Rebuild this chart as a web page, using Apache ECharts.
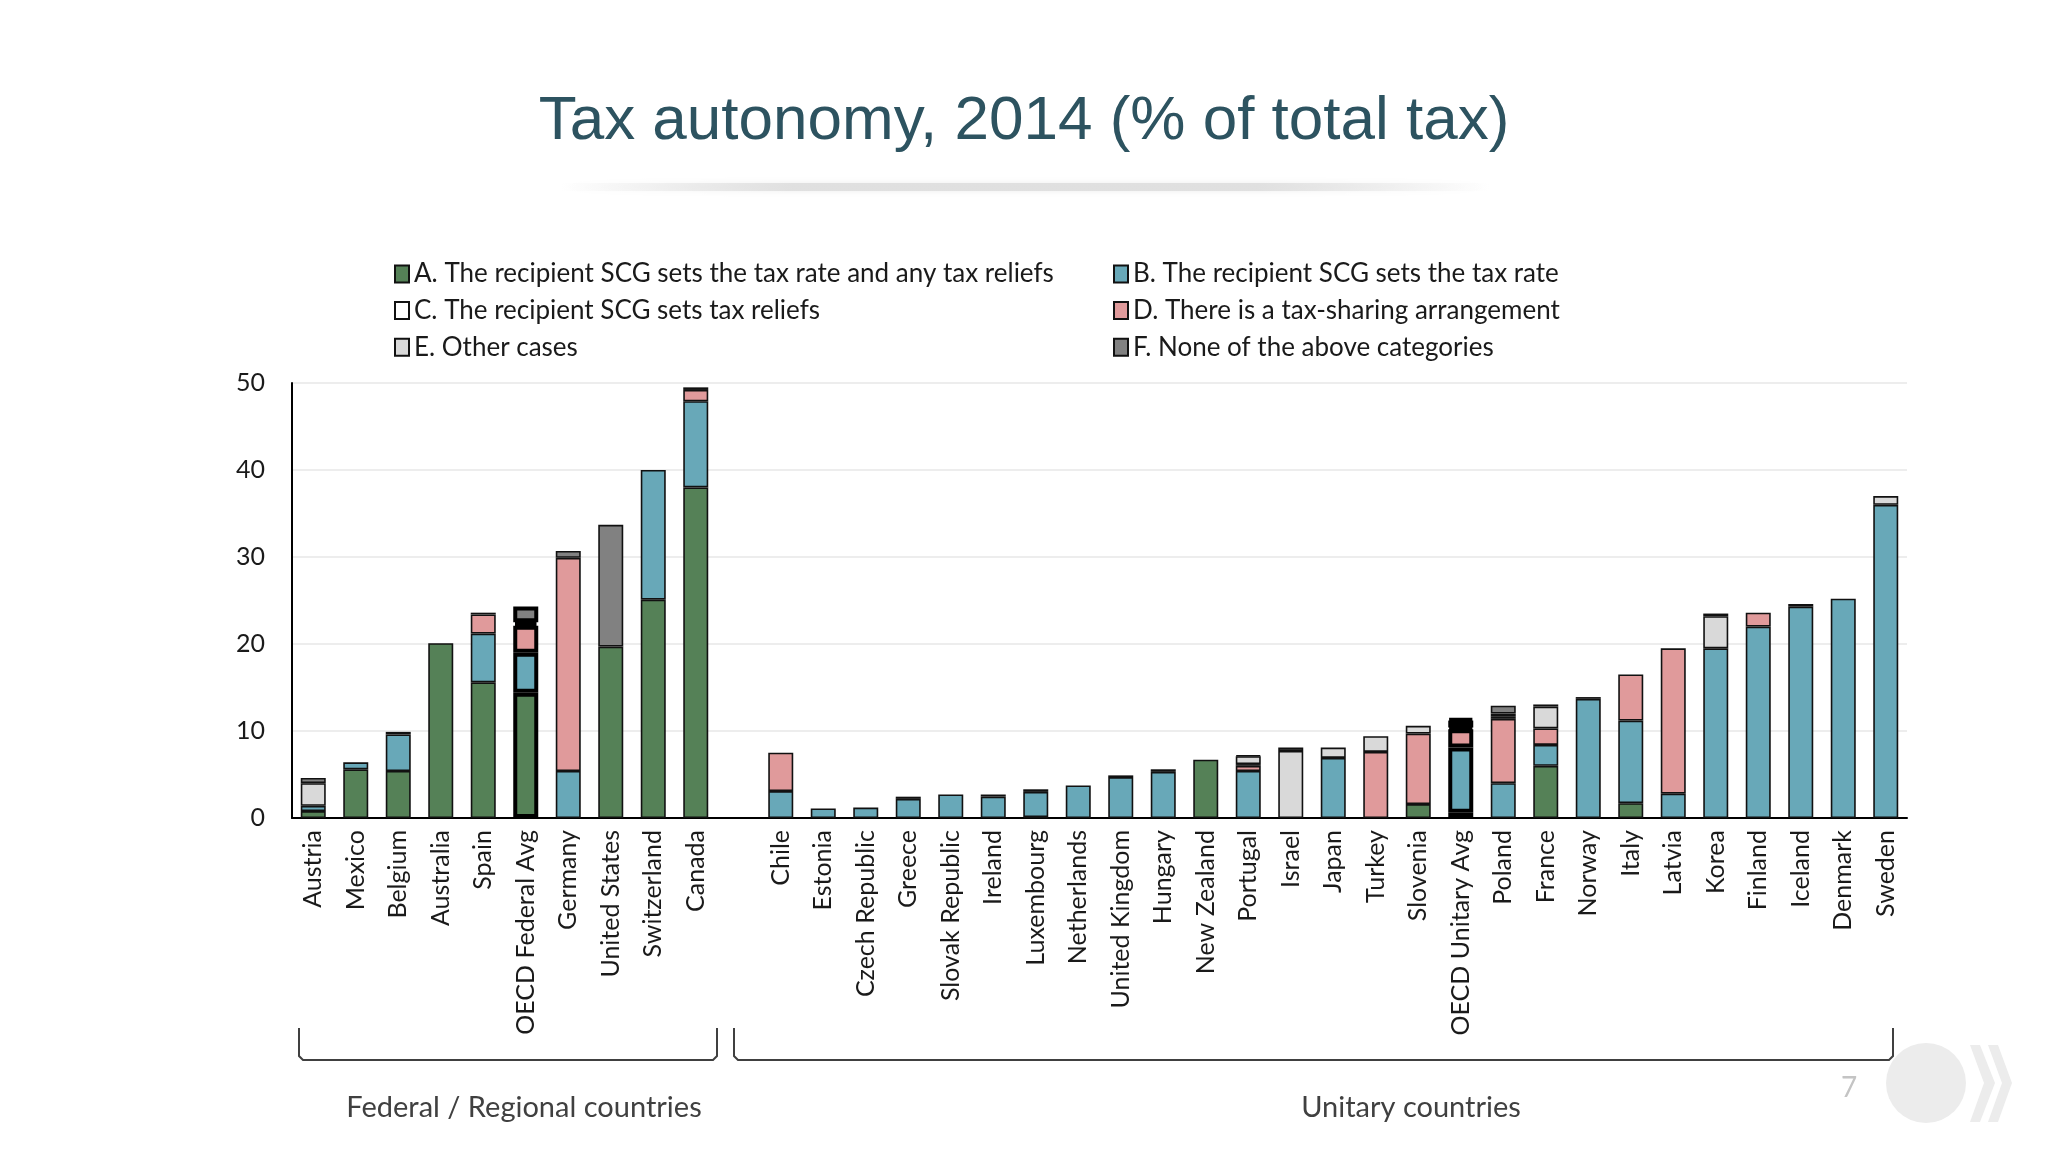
<!DOCTYPE html>
<html>
<head>
<meta charset="utf-8">
<script src="https://cdn.jsdelivr.net/npm/echarts@6/dist/echarts.min.js"></script>
<style>
  html, body { margin: 0; padding: 0; background: #ffffff; }
  #chart { width: 2048px; height: 1152px; }
</style>
</head>
<body>
<div id="chart"></div>
<script>
// ---------- DATA ----------
const federalCountries = ['Austria','Mexico','Belgium','Australia','Spain','OECD Federal Avg','Germany','United States','Switzerland','Canada'];
const unitaryCountries = ['Chile','Estonia','Czech Republic','Greece','Slovak Republic','Ireland','Luxembourg','Netherlands','United Kingdom','Hungary','New Zealand','Portugal','Israel','Japan','Turkey','Slovenia','OECD Unitary Avg','Poland','France','Norway','Italy','Latvia','Korea','Finland','Iceland','Denmark','Sweden'];

const seriesNames = [
  'A. The recipient SCG sets the tax rate and any tax reliefs',
  'B. The recipient SCG sets the tax rate',
  'C. The recipient SCG sets tax reliefs',
  'D. There is a tax-sharing arrangement',
  'E. Other cases',
  'F. None of the above categories'
];

// Federal / regional countries
const fedA = [0.8, 5.6, 5.4, 20.1, 15.6, 14.4, 0,    19.7, 25.1, 38.0];
const fedB = [0.6, 0.8, 4.2, 0,    5.6,  4.6,  5.4,  0,    14.9, 9.9];
const fedC = [0,   0,   0,   0,    0,    0,    0,    0,    0,    0];
const fedD = [0,   0,   0,   0,    2.2,  3.1,  24.5, 0,    0,    1.3];
const fedE = [2.6, 0,   0,   0,    0,    0.4,  0,    0,    0,    0];
const fedF = [0.6, 0,   0.3, 0,    0.2,  1.8,  0.8,  14.0, 0,    0.3];

// Unitary countries
const uniA = [0, 0, 0, 0, 0, 0, 0.1, 0, 0, 0, 6.7, 0, 0, 0, 0, 1.6, 0.6, 0, 6.0, 0, 1.7, 0, 0, 0, 0, 0, 0];
const uniB = [3.1, 1.1, 1.2, 2.2, 2.7, 2.45, 2.9, 3.75, 4.7, 5.3, 0, 5.4, 0, 6.9, 0, 0, 7.5, 4.0, 2.4, 13.7, 9.5, 2.8, 19.5, 22.0, 24.3, 25.2, 36.0];
const uniC = [0, 0, 0, 0, 0, 0, 0, 0, 0, 0, 0, 0.2, 0, 0, 0, 0, 0.2, 0.3, 0, 0, 0, 0, 0, 0, 0, 0, 0];
const uniD = [4.4, 0, 0, 0, 0, 0, 0, 0, 0, 0, 0, 0.6, 0, 0, 7.6, 8.1, 2.1, 7.4, 1.9, 0, 5.3, 16.7, 0, 1.6, 0, 0, 0];
const uniE = [0, 0, 0, 0, 0, 0, 0, 0, 0, 0, 0, 0.9, 7.7, 1.2, 1.8, 0.9, 0.8, 0.3, 2.5, 0, 0, 0, 3.7, 0, 0, 0, 1.0];
const uniF = [0, 0, 0, 0.25, 0, 0.25, 0.3, 0, 0.2, 0.3, 0, 0.1, 0.4, 0, 0, 0, 0.2, 0.9, 0.25, 0.2, 0, 0, 0.3, 0, 0.3, 0, 0];

const yTicks = [0, 10, 20, 30, 40, 50];
const groupLabels = ['Federal / Regional countries', 'Unitary countries'];

// ---------- BUILD ----------
const categories = federalCountries.concat([''], unitaryCountries);
const avgNames = ['OECD Federal Avg', 'OECD Unitary Avg'];
const colors = ['#558157', '#68a8b8', '#ffffff', '#e09a9b', '#d9d9d9', '#818181'];
const raw = [
  fedA.concat([null], uniA),
  fedB.concat([null], uniB),
  fedC.concat([null], uniC),
  fedD.concat([null], uniD),
  fedE.concat([null], uniE),
  fedF.concat([null], uniF)
];
// stacking order bottom -> top: A, B, D, C, E, F
const stackOrder = [0, 1, 3, 2, 4, 5];

const series = stackOrder.map(function (k) {
  return {
    name: seriesNames[k],
    type: 'bar',
    stack: 'total',
    barWidth: 25,
    itemStyle: { color: colors[k], borderColor: '#111', borderWidth: 1.6 },
    emphasis: { disabled: true },
    data: raw[k].map(function (v, i) {
      const val = (v === null || v === 0) ? null : v;
      if (avgNames.indexOf(categories[i]) >= 0) {
        return { value: val, itemStyle: { borderWidth: 4, borderColor: '#000' } };
      }
      return val;
    })
  };
});

const FONT = 'Lato, "Open Sans", sans-serif';
const legendCommon = {
  orient: 'vertical', top: 260, padding: 0,
  icon: 'rect', itemWidth: 14, itemHeight: 17, itemGap: 8.6,
  textStyle: { fontFamily: FONT, fontSize: 26, lineHeight: 28, color: '#1a1a1a' }
};
const chart = echarts.init(document.getElementById('chart'));
chart.setOption({
  animation: false,
  backgroundColor: '#ffffff',
  title: {
    text: 'Tax autonomy, 2014 (% of total tax)',
    left: 'center',
    top: 86,
    textStyle: { fontFamily: '"Liberation Sans", Arial, sans-serif', fontSize: 62, fontWeight: 'normal', color: '#2d5360' }
  },
  legend: [
    Object.assign({ data: [seriesNames[0], seriesNames[2], seriesNames[4]], left: 394 }, legendCommon),
    Object.assign({ data: [seriesNames[1], seriesNames[3], seriesNames[5]], left: 1113 }, legendCommon)
  ],
  grid: { left: 292, top: 383, width: 1615, height: 435, containLabel: false },
  xAxis: {
    type: 'category',
    data: categories,
    axisLine: { lineStyle: { color: '#000', width: 2 } },
    axisTick: { show: false },
    axisLabel: { interval: 0, rotate: 90, margin: 12, fontFamily: FONT, fontSize: 25, color: '#1a1a1a' }
  },
  yAxis: {
    type: 'value',
    min: yTicks[0], max: yTicks[yTicks.length - 1], interval: yTicks[1] - yTicks[0],
    axisLine: { show: true, lineStyle: { color: '#000', width: 2 } },
    axisTick: { show: false },
    splitLine: { lineStyle: { color: '#ededed', width: 2 } },
    axisLabel: { margin: 27, fontFamily: FONT, fontSize: 25, color: '#1a1a1a' }
  },
  series: series,
  graphic: [
    // title underline shadow
    {
      type: 'rect', shape: { x: 560, y: 183, width: 930, height: 8, r: 4 },
      style: {
        fill: new echarts.graphic.LinearGradient(0, 0, 1, 0, [
          { offset: 0, color: 'rgba(225,225,225,0)' },
          { offset: 0.25, color: 'rgba(222,222,222,0.9)' },
          { offset: 0.75, color: 'rgba(222,222,222,0.9)' },
          { offset: 1, color: 'rgba(225,225,225,0)' }
        ]),
        shadowBlur: 6, shadowColor: 'rgba(0,0,0,0.08)'
      },
      silent: true
    },
    // brackets
    {
      type: 'polyline',
      shape: { points: [[299, 1028], [299, 1056], [303, 1060], [713, 1060], [717, 1056], [717, 1028]] },
      style: { stroke: '#404040', lineWidth: 2, fill: null }, silent: true
    },
    {
      type: 'polyline',
      shape: { points: [[734, 1028], [734, 1056], [738, 1060], [1889, 1060], [1893, 1056], [1893, 1028]] },
      style: { stroke: '#404040', lineWidth: 2, fill: null }, silent: true
    },
    {
      type: 'text', x: 524, y: 1108,
      style: { text: groupLabels[0], fontFamily: FONT, fontSize: 29, fill: '#404040', align: 'center', verticalAlign: 'middle' }
    },
    {
      type: 'text', x: 1411, y: 1108,
      style: { text: groupLabels[1], fontFamily: FONT, fontSize: 29, fill: '#404040', align: 'center', verticalAlign: 'middle' }
    },
    // page number
    {
      type: 'text', x: 1849, y: 1088,
      style: { text: '7', fontFamily: FONT, fontSize: 28, fill: '#c4c4c4', align: 'center', verticalAlign: 'middle' }
    },
    // logo (decorative)
    { type: 'circle', shape: { cx: 1926, cy: 1083, r: 40 }, style: { fill: '#ececec' }, silent: true },
    {
      type: 'polygon',
      shape: { points: [[1970, 1045], [1980, 1045], [1995, 1083], [1980, 1122], [1970, 1122], [1984, 1083]] },
      style: { fill: '#ececec' }, silent: true
    },
    {
      type: 'polygon',
      shape: { points: [[1988, 1045], [1998, 1045], [2012, 1083], [1998, 1122], [1988, 1122], [2002, 1083]] },
      style: { fill: '#ececec' }, silent: true
    }
  ]
});
</script>
</body>
</html>
